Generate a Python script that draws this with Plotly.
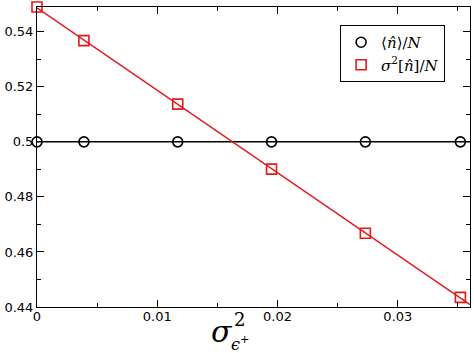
import numpy as np
import plotly.graph_objects as go

x_vals = [0.0, 0.0039, 0.0117, 0.0195, 0.0273, 0.0352]
mean_vals = [0.5, 0.5, 0.5, 0.5, 0.5, 0.5]
var_vals = [0.549, 0.5368, 0.5137, 0.4901, 0.4668, 0.4435]
x_range = [0.0, 0.036]
y_range = [0.44, 0.549]
y_ticks = [0.44, 0.46, 0.48, 0.5, 0.52, 0.54]
y_ticktext = ["0.44", "0.46", "0.48", "0.5", "0.52", "0.54"]
x_ticks = [0, 0.01, 0.02, 0.03]
x_ticktext = ["0", "0.01", "0.02", "0.03"]

xs = np.array(x_vals)
fit_x = np.array(x_range)
pm = np.polyfit(xs, np.array(mean_vals), 1)
pv = np.polyfit(xs, np.array(var_vals), 1)

fig = go.Figure()
fig.add_trace(go.Scatter(x=fit_x, y=np.polyval(pm, fit_x), mode="lines",
                         line=dict(color="black", width=1.5), showlegend=False, hoverinfo="skip"))
fig.add_trace(go.Scatter(x=fit_x, y=np.polyval(pv, fit_x), mode="lines",
                         line=dict(color="#e41a1c", width=1.5), showlegend=False, hoverinfo="skip"))
fig.add_trace(go.Scatter(x=x_vals, y=mean_vals, mode="markers", cliponaxis=False,
                         marker=dict(symbol="circle-open", size=10, color="black", line=dict(width=1.6)),
                         name="⟨<i>n</i>&#x0302;⟩/<i>N</i>"))
fig.add_trace(go.Scatter(x=x_vals, y=var_vals, mode="markers", cliponaxis=False,
                         marker=dict(symbol="square-open", size=10, color="#e41a1c", line=dict(width=1.6)),
                         name="<i>σ</i><sup>2</sup>[<i>n</i>&#x0302;]/<i>N</i>"))

axis_common = dict(showgrid=False, zeroline=False, showline=True, linecolor="black", linewidth=1,
                   mirror="allticks", ticks="inside", ticklen=7, tickcolor="black",
                   tickfont=dict(family="DejaVu Sans", size=13, color="black"))
fig.update_xaxes(range=x_range, tickvals=x_ticks, ticktext=x_ticktext, ticklabelstandoff=-3,
                 minor=dict(dtick=0.005, ticks="inside", ticklen=4, tickcolor="black", showgrid=False),
                 **axis_common)
fig.update_yaxes(range=y_range, tickvals=y_ticks, ticktext=y_ticktext,
                 minor=dict(dtick=0.01, tick0=0.44, ticks="inside", ticklen=4, tickcolor="black", showgrid=False),
                 **axis_common)

fig.add_annotation(xref="paper", yref="paper", x=0.427, y=-0.08, xanchor="center", yanchor="middle",
                   text="<i>σ</i>", showarrow=False, font=dict(family="DejaVu Serif", size=30, color="black"))
fig.add_annotation(xref="paper", yref="paper", x=0.467, y=-0.043, xanchor="center", yanchor="middle",
                   text="2", showarrow=False, font=dict(family="DejaVu Serif", size=18, color="black"))
fig.add_annotation(xref="paper", yref="paper", x=0.443, y=-0.12, xanchor="left", yanchor="middle",
                   text="<i>ϵ</i><sup>+</sup>", showarrow=False, font=dict(family="DejaVu Serif", size=16, color="black"))

fig.update_layout(
    width=474, height=353, margin=dict(l=37, r=4, t=7, b=46),
    paper_bgcolor="white", plot_bgcolor="white",
    legend=dict(x=0.70, y=0.94, xanchor="left", yanchor="top", bordercolor="black", borderwidth=1,
                bgcolor="white", font=dict(family="DejaVu Serif", size=15, color="black"),
                itemwidth=30, tracegroupgap=0),
)
fig.write_html("out.html")
